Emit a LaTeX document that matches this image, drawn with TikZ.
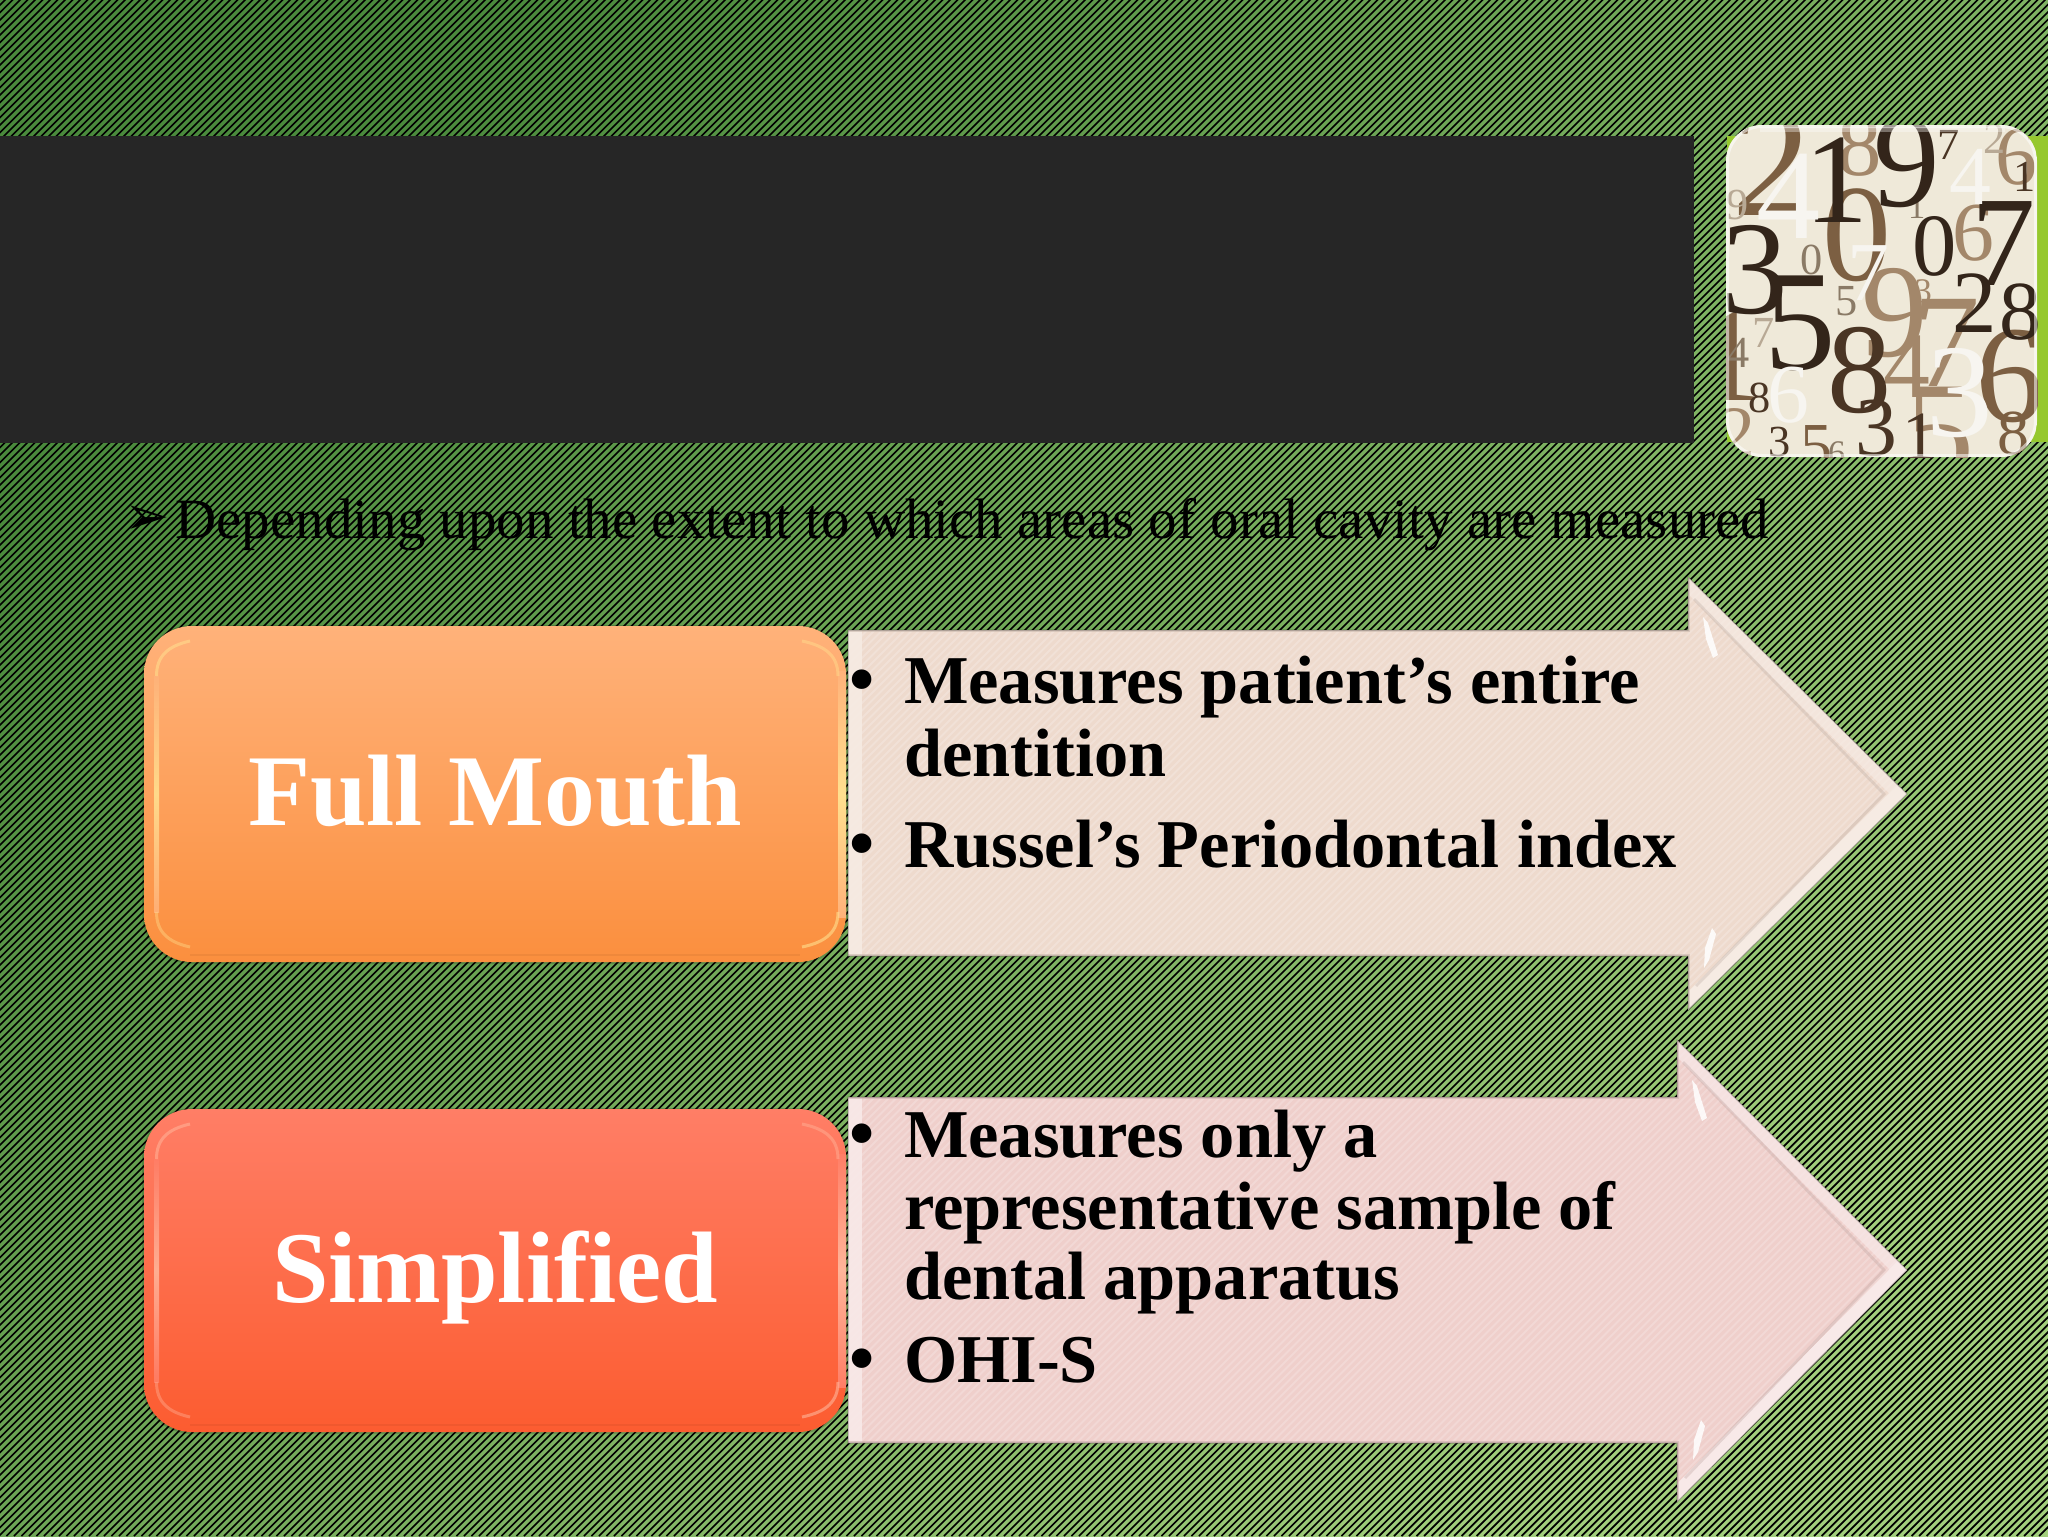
\documentclass[tikz,border=0pt]{standalone}
\usepackage{fontspec}
\setmainfont{Liberation Serif}
\newfontfamily\symfont{DejaVu Sans}
\definecolor{bgA}{HTML}{4A8A3C}
\definecolor{bgB}{HTML}{A2CE7C}
\definecolor{barc}{HTML}{262626}
\definecolor{limec}{HTML}{96C82E}
\definecolor{paper}{HTML}{EFE9D9}
\definecolor{dk}{HTML}{33251A}
\definecolor{dbr}{HTML}{4A3524}
\definecolor{br}{HTML}{7C5F42}
\definecolor{tn}{HTML}{A3876A}
\definecolor{gy}{HTML}{8A7A66}
\definecolor{pl}{HTML}{B8A995}
\definecolor{wt}{HTML}{F7F5F0}
\definecolor{orT}{HTML}{FFB27A}
\definecolor{orB}{HTML}{FB8F3E}
\definecolor{orE}{HTML}{FFE08F}
\definecolor{reT}{HTML}{FF7E66}
\definecolor{reB}{HTML}{FC5C30}
\definecolor{reE}{HTML}{FFB59A}
\definecolor{arA}{HTML}{EEDACD}
\definecolor{arB}{HTML}{EFCFCB}
\newcommand{\fs}[1]{\fontsize{#1}{#1}\selectfont}
% #1 colour, #2 shaft end, #3 top, #4 bottom, #5 head top, #6 head bottom, #7 centre, #8 band colour
\newcommand{\bevelarrow}[8]{%
  \fill[#1] (848,#3)--(#2,#3)--(#2,#5)--(1907,#7)--(#2,#6)--(#2,#4)--(848,#4)--cycle;
  \begin{scope}
    \clip (848,#3)--(#2,#3)--(#2,#5)--(1907,#7)--(#2,#6)--(#2,#4)--(848,#4)--cycle;
    \draw[white,opacity=.2,line width=.95pt] foreach \i in {840,847.5,...,3440} {(\i,#3-100)--(\i-1536,#3+1436)};
    \draw[#8,line width=12pt,opacity=.7] (#2,#5)--(1907,#7);
    \draw[#8,line width=13pt] (1907,#7)--(#2,#6);
    \draw[#8,line width=14pt,opacity=.9] (848,#3)--(848,#4);
    \draw[#1!80!black,line width=1.4pt,opacity=.35] (#2+6,#5+22)--(1884,#7)--(#2+8,#6-24);
    \draw[#1!85!black,line width=2pt,opacity=.6] (848,#3)--(#2,#3)--(#2,#5);
    \draw[#1!85!black,line width=2pt,opacity=.6] (848,#4)--(#2,#4)--(#2,#6);
  \end{scope}
  \draw[black,opacity=.3,line width=.5pt] (848,#3)--(#2,#3)--(#2,#5)--(1907,#7)--(#2,#6)--(#2,#4)--(848,#4)--cycle;
  \fill[white,opacity=.85] (#2+15,#5+40)--(#2+20,#5+46)--(#2+30,#5+78)--(#2+25,#5+81)--(#2+18,#5+62)--cycle;
  \fill[white,opacity=.85] (#2+24,#6-82)--(#2+28,#6-76)--(#2+21,#6-50)--(#2+16,#6-42)--(#2+17,#6-62)--cycle;
}
% #1 top, #2 bottom, #3 top colour, #4 bottom colour, #5 edge colour
\newcommand{\glossbox}[5]{%
  \fill[black,opacity=.18,rounded corners=25pt] (142,#1-1) rectangle (848,#2+2);
  \shade[top color=#3,bottom color=#4,rounded corners=24pt] (144,#1) rectangle (846,#2);
  \shade[top color=#3,bottom color=#3,middle color=#5,opacity=.9] (154,#1+50) rectangle (159,#2-50);
  \draw[#5,line width=1.5pt,opacity=.55] (156.5,#1+50) .. controls (156.5,#1+30) and (168,#1+20) .. (190,#1+15);
  \draw[#5,line width=1.5pt,opacity=.4] (156.5,#2-50) .. controls (156.5,#2-30) and (168,#2-20) .. (190,#2-15);
  \shade[top color=#3,bottom color=#3,middle color=#5] (838,#1+45) rectangle (846,#2-45);
  \draw[#5,line width=1.5pt,opacity=.45] (838,#1+50) .. controls (838,#1+30) and (826,#1+20) .. (802,#1+15);
  \draw[#5,line width=1.5pt,opacity=.6] (838,#2-50) .. controls (838,#2-30) and (826,#2-20) .. (802,#2-15);
  \draw[#4!88!black,line width=1pt,opacity=.4] (190,#2-7)--(800,#2-7);
}
\begin{document}
\begin{tikzpicture}[x=0.5pt,y=-0.5pt,
  lbl/.style={inner sep=0pt,outer sep=0pt,anchor=base west,text=black,font=\bfseries\fs{34.2}},
  head/.style={inner sep=0pt,outer sep=0pt,anchor=base,text=white,font=\bfseries\fs{50.8}},
  bul/.style={inner sep=0pt,outer sep=0pt,anchor=base,text=black,font=\bfseries\fs{36}},
]
\useasboundingbox (0,0) rectangle (2048,1536);
% striped background
\shade[left color=bgA,right color=bgB,shading angle=45] (0,0) rectangle (2048,1536);
\draw[black,line width=.85pt] foreach \i in {0,7.5,...,3590} {(\i,-10)--(\i-1546,1536)};
% title bar
\fill[barc] (0,136) rectangle (1694,443);
% picture of numbers
\fill[limec] (1727,136) rectangle (2048,442);
\begin{scope}
  \clip[rounded corners=18pt] (1726,125) rectangle (2037,457);
  \fill[paper] (1726,125) rectangle (2037,457);
  \foreach \d/\zx/\zy/\zh/\c [count=\n] in {
    2/215/190/320/br, 8/480/140/180/tn, 6/950/170/170/tn, 2/885/115/90/pl, 9/112/315/90/pl,
    0/470/405/280/br, 1/650/320/70/gy, 6/820/400/170/tn, 0/335/480/90/gy, 5/440/605/90/gy,
    9/585/640/270/tn, 3/670/575/70/tn, 7/740/730/270/tn, 1/90/770/270/br, 7/190/700/90/pl,
    4/115/760/90/gy, 4/620/800/190/tn, 6/930/830/280/br, 5/720/1000/280/tn, 2/110/1000/150/tn,
    5/350/1040/130/br, 6/410/1060/70/gy, 8/940/1000/130/br,
    1/410/240/260/dk, 9/620/190/270/dk, 7/745/135/90/dbr, 1/975/230/90/dbr, 7/910/430/260/dk,
    0/705/440/180/dk, 3/165/510/270/dk, 5/300/670/290/dk, 2/825/610/180/dk, 8/960/635/170/dk,
    8/480/810/260/dbr, 8/180/895/90/dbr, 3/240/1025/90/dbr, 3/530/985/170/dbr, 1/660/1010/140/dbr,
    4/265/290/260/wt, 4/810/230/170/wt, 7/505/520/170/wt, 3/780/880/270/wt, 6/265/885/170/wt}
  {
    \pgfmathsetmacro{\dsize}{\zh*0.2465}
    \pgfmathsetmacro{\dx}{1700+\zx/3}
    \pgfmathsetmacro{\dy}{100+\zy/3}
    \node[inner sep=0pt,text=\c,font=\fs{\dsize}] (dig\n) at (\dx,\dy) {\d};
  }
  \draw[white,opacity=.55,line width=3pt,rounded corners=18pt] (1726,125) rectangle (2037,457);
  \fill[white,opacity=.35] (1760,127) rectangle (2005,132);
\end{scope}
% intro line
\node[inner sep=0pt,anchor=base,text=black,font=\symfont\fs{27}] (mark) at (147,534) {➢};
\node[inner sep=0pt,anchor=base west,text=black,font=\fs{28.5}] (intro) at (175,538) {Depending upon the extent to which areas of oral cavity are measured};
% arrows
\bevelarrow{arA}{1688}{630}{956}{577}{1010}{794}{arA!55!white}
\bevelarrow{arB}{1677}{1097}{1443}{1040}{1502}{1270}{arB!45!white}
% boxes
\glossbox{626}{962}{orT}{orB}{orE}
\glossbox{1109}{1432}{reT}{reB}{reE}
\node[head] (full) at (495,825) {Full Mouth};
\node[head] (simp) at (495,1302) {Simplified};
% texts of first arrow
\node[bul] (b1) at (862,703) {•};
\node[lbl] (t1) at (904,703) {Measures patient’s entire};
\node[lbl] (t2) at (904,776) {dentition};
\node[bul] (b2) at (862,867) {•};
\node[lbl] (t3) at (904,867) {Russel’s Periodontal index};
% texts of second arrow
\node[bul] (b3) at (862,1157) {•};
\node[lbl] (t4) at (904,1157) {Measures only a};
\node[lbl] (t5) at (904,1229) {representative sample of};
\node[lbl] (t6) at (904,1299) {dental apparatus};
\node[bul] (b4) at (862,1382) {•};
\node[lbl] (t7) at (904,1382) {OHI-S};
\end{tikzpicture}
\end{document}
